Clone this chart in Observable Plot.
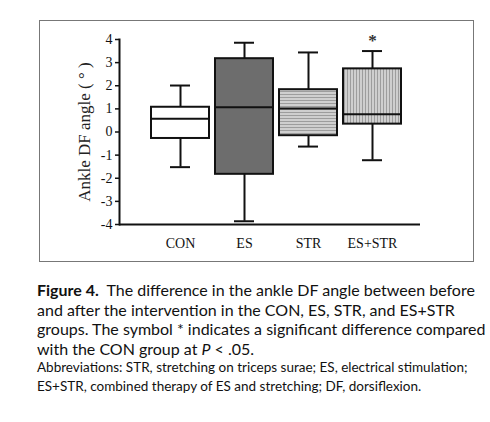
<!DOCTYPE html>
<html>
<head>
<meta charset="utf-8">
<script src="https://cdn.jsdelivr.net/npm/d3@7"></script>
<script src="https://cdn.jsdelivr.net/npm/@observablehq/plot@0.6"></script>
<style>
  html, body { margin: 0; padding: 0; background: #fff; }
  body { width: 490px; height: 422px; position: relative; overflow: hidden; }
  #fig { position: absolute; left: 39px; top: 20px; width: 433px; height: 240px; border: 1px solid #777; }
  #fig svg { display: block; }
  #cap { position: absolute; left: 37px; top: 280px; font-family: Lato, "Open Sans", sans-serif; color: #111; white-space: nowrap; }
  #cap .main { font-size: 16px; line-height: 19.5px; }
  #cap .abbr { font-size: 13.5px; line-height: 19px; }
  #cap b { font-weight: 700; }
</style>
</head>
<body>
<div id="fig"></div>
<div id="cap">
  <div class="main"><b>Figure 4.</b>&nbsp; The difference in the ankle DF angle between before<br>and after the intervention in the CON, ES, STR, and ES+STR<br>groups. The symbol * indicates a significant difference compared<br>with the CON group at <i>P</i> &lt; .05.</div>
  <div class="abbr">Abbreviations: STR, stretching on triceps surae; ES, electrical stimulation;<br>ES+STR, combined therapy of ES and stretching; DF, dorsiflexion.</div>
</div>
<script>
// Change in ankle dorsiflexion angle (degrees), per group
const groups = ["CON", "ES", "STR", "ES+STR"];
const whiskerLow = [-1.52, -3.86, -0.63, -1.22];
const q1 = [-0.28, -1.83, -0.16, 0.34];
const median = [0.57, 1.07, 1.02, 0.77];
const q3 = [1.07, 3.17, 1.83, 2.73];
const whiskerHigh = [2.01, 3.86, 3.44, 3.50];
const significance = ["", "", "", "*"];
const yTicks = [-4, -3, -2, -1, 0, 1, 2, 3, 4];
const yLabel = ["Ankle DF angle ( ° )"];

const rows = groups.map((group, i) => ({
  group,
  low: whiskerLow[i],
  q1: q1[i],
  median: median[i],
  q3: q3[i],
  high: whiskerHigh[i],
  sig: significance[i]
}));

// Box fills: plain, solid grey, horizontal and vertical hatching
const boxFill = ["#ffffff", "#6d6d6d", "url(#stripes-h)", "url(#stripes-v)"];
const ink = "#111";

const chart = Plot.plot({
  width: 433,
  height: 240,
  marginTop: 18,
  marginBottom: 37,
  marginLeft: 79,
  marginRight: 53,
  style: { fontFamily: "'Liberation Serif', 'Times New Roman', serif", color: ink, background: "white" },
  x: { domain: groups, paddingInner: 0.09, paddingOuter: 0.386, align: 0.64 },
  y: { domain: [-4, 4] },
  color: { domain: groups, range: boxFill },
  marks: [
    Plot.axisY({ ticks: yTicks, tickFormat: (d) => String(d), tickSize: 4, tickPadding: 3, fontSize: 14, label: null, strokeWidth: 1.5 }),
    Plot.text(yLabel, { frameAnchor: "left", textAnchor: "middle", rotate: -90, dx: -35, fontSize: 17, fill: "#222" }),
    Plot.axisX({ tickSize: 0, tickPadding: 14, fontSize: 14, label: null }),
    Plot.ruleY([-4], { stroke: ink, strokeWidth: 2 }),
    Plot.frame({ anchor: "left", stroke: ink, strokeWidth: 2 }),
    Plot.ruleX(rows, { x: "group", y1: "low", y2: "high", stroke: ink, strokeWidth: 2 }),
    Plot.tickY(rows, { x: "group", y: "low", insetLeft: 19, insetRight: 19, stroke: ink, strokeWidth: 2 }),
    Plot.tickY(rows, { x: "group", y: "high", insetLeft: 19, insetRight: 19, stroke: ink, strokeWidth: 2 }),
    Plot.barY(rows, { x: "group", y1: "q1", y2: "q3", fill: "group", stroke: ink, strokeWidth: 2 }),
    Plot.tickY(rows, { x: "group", y: "median", stroke: ink, strokeWidth: 2 }),
    Plot.text(rows, { x: "group", y: "high", text: "sig", dy: -11, fontSize: 17, fontWeight: "bold", fill: "#333" })
  ]
});

// Hatching patterns referenced by the box fills
const svgNS = "http://www.w3.org/2000/svg";
const defs = document.createElementNS(svgNS, "defs");
defs.innerHTML = `
  <pattern id="stripes-h" width="4" height="3" patternUnits="userSpaceOnUse">
    <rect width="4" height="3" fill="#cfcfcf"/>
    <rect y="1" width="4" height="1" fill="#9d9d9d"/>
  </pattern>
  <pattern id="stripes-v" width="3" height="4" patternUnits="userSpaceOnUse">
    <rect width="3" height="4" fill="#cfcfcf"/>
    <rect x="1" width="1" height="4" fill="#9d9d9d"/>
  </pattern>`;
chart.insertBefore(defs, chart.firstChild);

document.getElementById("fig").appendChild(chart);
</script>
</body>
</html>
